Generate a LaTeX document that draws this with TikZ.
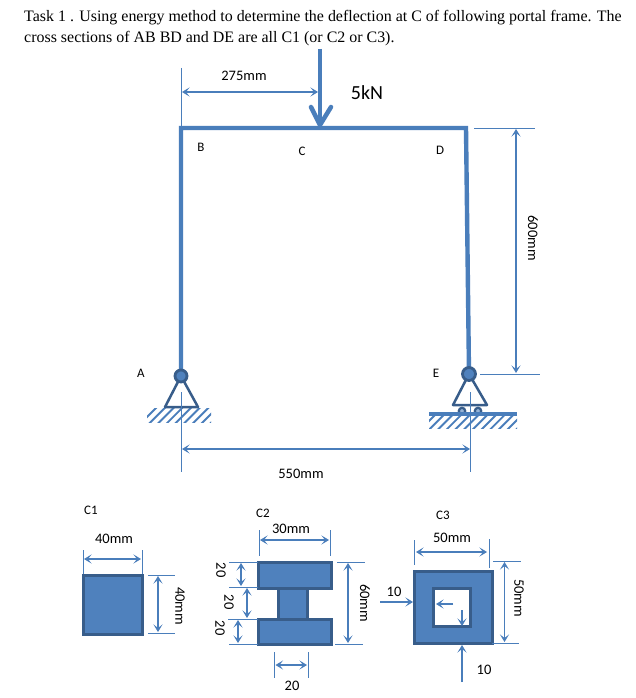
\documentclass[tikz,border=0pt]{standalone}
\usepackage{fontspec}
\setmainfont{Liberation Serif}
\newfontfamily\labelfont{Carlito}
\usetikzlibrary{arrows.meta}
\definecolor{linkblue}{HTML}{4A7EBB}
\definecolor{fillblue}{HTML}{4F81BD}
\definecolor{edgeblue}{HTML}{385D8A}
\tikzset{
  member/.style  = {line width=4.4pt, linkblue, line join=miter},
  dimline/.style = {line width=1.1pt, linkblue, >={Stealth[length=7.5pt,width=9pt,inset=3.5pt]}},
  extline/.style = {line width=.9pt, linkblue},
  section/.style = {line width=3pt, draw=edgeblue, fill=fillblue},
  support/.style = {line width=2.5pt, draw=edgeblue, fill=white, line join=round},
  hatchline/.style = {line width=1.9pt, linkblue},
  lbl/.style     = {inner sep=0pt, font=\labelfont\fontsize{13}{15}\selectfont},
  dimtxt/.style  = {inner sep=0pt, font=\labelfont\fontsize{14.5}{16}\selectfont},
  dimrot/.style  = {dimtxt, rotate=-90},
  task/.style    = {inner sep=0pt, anchor=base west, font=\fontsize{15.95}{18}\selectfont}
}
\begin{document}
\begin{tikzpicture}[x=1pt, y=-1pt]
  \useasboundingbox (0,0) rectangle (636,698);
  \fill[white] (0,0) rectangle (636,698);
  \node[task] (line1) at (24,21.5) {Task 1 . Using energy method to determine the deflection at C of following portal frame. The};
  \node[task] (line2) at (24,43) {cross sections of AB BD and DE are all C1 (or C2 or C3).};

  \coordinate (A) at (181,376);
  \coordinate (B) at (181,128);
  \coordinate (D) at (466,128);
  \coordinate (E) at (469,374);
  \coordinate (C) at (320,125);

  % hatching under the supports
  \begin{scope}
    \clip (147,408) rectangle (211,422);
    \foreach \x in {140,148.7,...,225} \draw[hatchline] (\x,424) -- (\x+18,406);
  \end{scope}
  \begin{scope}
    \clip (429,416) rectangle (517,428);
    \foreach \x in {420,428.7,...,525} \draw[hatchline] (\x,430) -- (\x+18,412);
  \end{scope}

  \draw[member] (A) -- (B) -- (D) -- (E);                       % frame
  \draw[line width=4.5pt, linkblue] (320,49) -- (C);            % load
  \draw[line width=4.5pt, linkblue, line cap=round, line join=miter] (311,107) -- (C) -- (331,107);

  \draw[support] (A) -- (198,407) -- (165,407) -- cycle;        % pin at A
  \draw[section, line width=2.8pt] (A) circle (6pt);
  \draw[line width=2.2pt, edgeblue, fill=fillblue!60] (462,411) circle (3.2pt); % rollers at E
  \draw[line width=2.2pt, edgeblue, fill=fillblue!60] (478,411) circle (3.2pt);
  \draw[line width=3.5pt, linkblue] (429,414) -- (517,414);
  \draw[support] (E) -- (487,405) -- (453,405) -- cycle;
  \draw[section, line width=2.8pt] (E) circle (6.5pt);

  % frame dimensions
  \draw[extline] (181,68) -- (181,128);
  \draw[dimline, <->] (182,92) -- (318,92);
  \draw[extline] (181,392) -- (181,472);
  \draw[extline] (470,392) -- (470,472);
  \draw[dimline, <->] (182,449) -- (470,449);
  \draw[extline] (474,128) -- (535,128);
  \draw[extline] (480,374) -- (540,374);
  \draw[dimline, <->] (516,129) -- (516,373);

  \node[dimtxt] (L275) at (244,76)  {275mm};
  \node[inner sep=0pt, font=\labelfont\fontsize{20}{22}\selectfont] (load) at (367,93) {5kN};
  \node[lbl] (lB) at (201,147) {B};
  \node[lbl] (lC) at (302,151) {C};
  \node[lbl] (lD) at (440,150) {D};
  \node[lbl] (lA) at (141,373) {A};
  \node[lbl] (lE) at (436,373) {E};
  \node[dimtxt] (L550) at (301,474) {550mm};
  \node[dimrot] (L600) at (533,238) {600mm};

  % C1
  \draw[section] (83,575) rectangle (142,634);
  \draw[extline] (83,550) -- (83,574);
  \draw[extline] (142,550) -- (142,574);
  \draw[dimline, <->] (84,559) -- (141,559);
  \draw[extline] (148,575) -- (175,575);
  \draw[extline] (148,633) -- (175,633);
  \draw[dimline, <->] (158,576) -- (158,632);
  \node[lbl] (lC1) at (91,510) {C1};
  \node[dimtxt] (W1) at (114,539) {40mm};
  \node[dimrot] (H1) at (180,606) {40mm};

  % C2
  \draw[section] (278,588) rectangle (307,619);
  \draw[section] (258,562) rectangle (331,588);
  \draw[section] (258,619) rectangle (331,644);
  \draw[extline] (259,530) -- (259,556);
  \draw[extline] (330,530) -- (330,556);
  \draw[dimline, <->] (260,540) -- (329,540);
  \draw[extline] (337,562) -- (365,562);
  \draw[extline] (335,644) -- (363,644);
  \draw[dimline, <->] (348,563) -- (348,643);
  \draw[extline] (229,562) -- (258,562);
  \draw[extline] (229,587) -- (258,587);
  \draw[extline] (228,619) -- (258,619);
  \draw[extline] (229,644) -- (258,644);
  \draw[dimline, <->] (241,563) -- (241,586);
  \draw[dimline, <->] (247,588) -- (247,618);
  \draw[dimline, <->] (238,620) -- (238,643);
  \draw[extline] (274.5,652) -- (274.5,678);
  \draw[extline] (308,652) -- (308,678);
  \draw[dimline, <->] (275.5,665) -- (307,665);
  \node[lbl] (lC2) at (263,513) {C2};
  \node[dimtxt] (W2) at (291,529) {30mm};
  \node[dimrot] (H2) at (365,603) {60mm};
  \node[dimrot] (T2a) at (221,570) {20};
  \node[dimrot] (T2b) at (229,602) {20};
  \node[dimrot] (T2c) at (220,628) {20};
  \node[dimtxt] (B2) at (292,686) {20};

  % C3
  \draw[section] (414,571) rectangle (492,643);
  \draw[section, fill=white] (433.5,588.5) rectangle (470.5,626);
  \draw[extline] (414,540) -- (414,565);
  \draw[extline] (489,539) -- (489,568);
  \draw[dimline, <->] (416,552) -- (487,552);
  \draw[extline] (493,561) -- (521,561);
  \draw[extline] (492,643.5) -- (519,643.5);
  \draw[dimline, <->] (504.5,562) -- (504.5,642);
  \draw[dimline, ->] (380,602) -- (413,602);
  \draw[dimline, ->] (453,604) -- (436,604);
  \draw[dimline, ->] (462,610) -- (462,626);
  \draw[dimline, ->] (462,682) -- (462,645);
  \node[lbl] (lC3) at (443,515) {C3};
  \node[dimtxt] (W3) at (452,538) {50mm};
  \node[dimrot] (H3) at (519,598) {50mm};
  \node[dimtxt] (T3a) at (394,592) {10};
  \node[dimtxt] (T3b) at (484,670) {10};
\end{tikzpicture}
\end{document}
